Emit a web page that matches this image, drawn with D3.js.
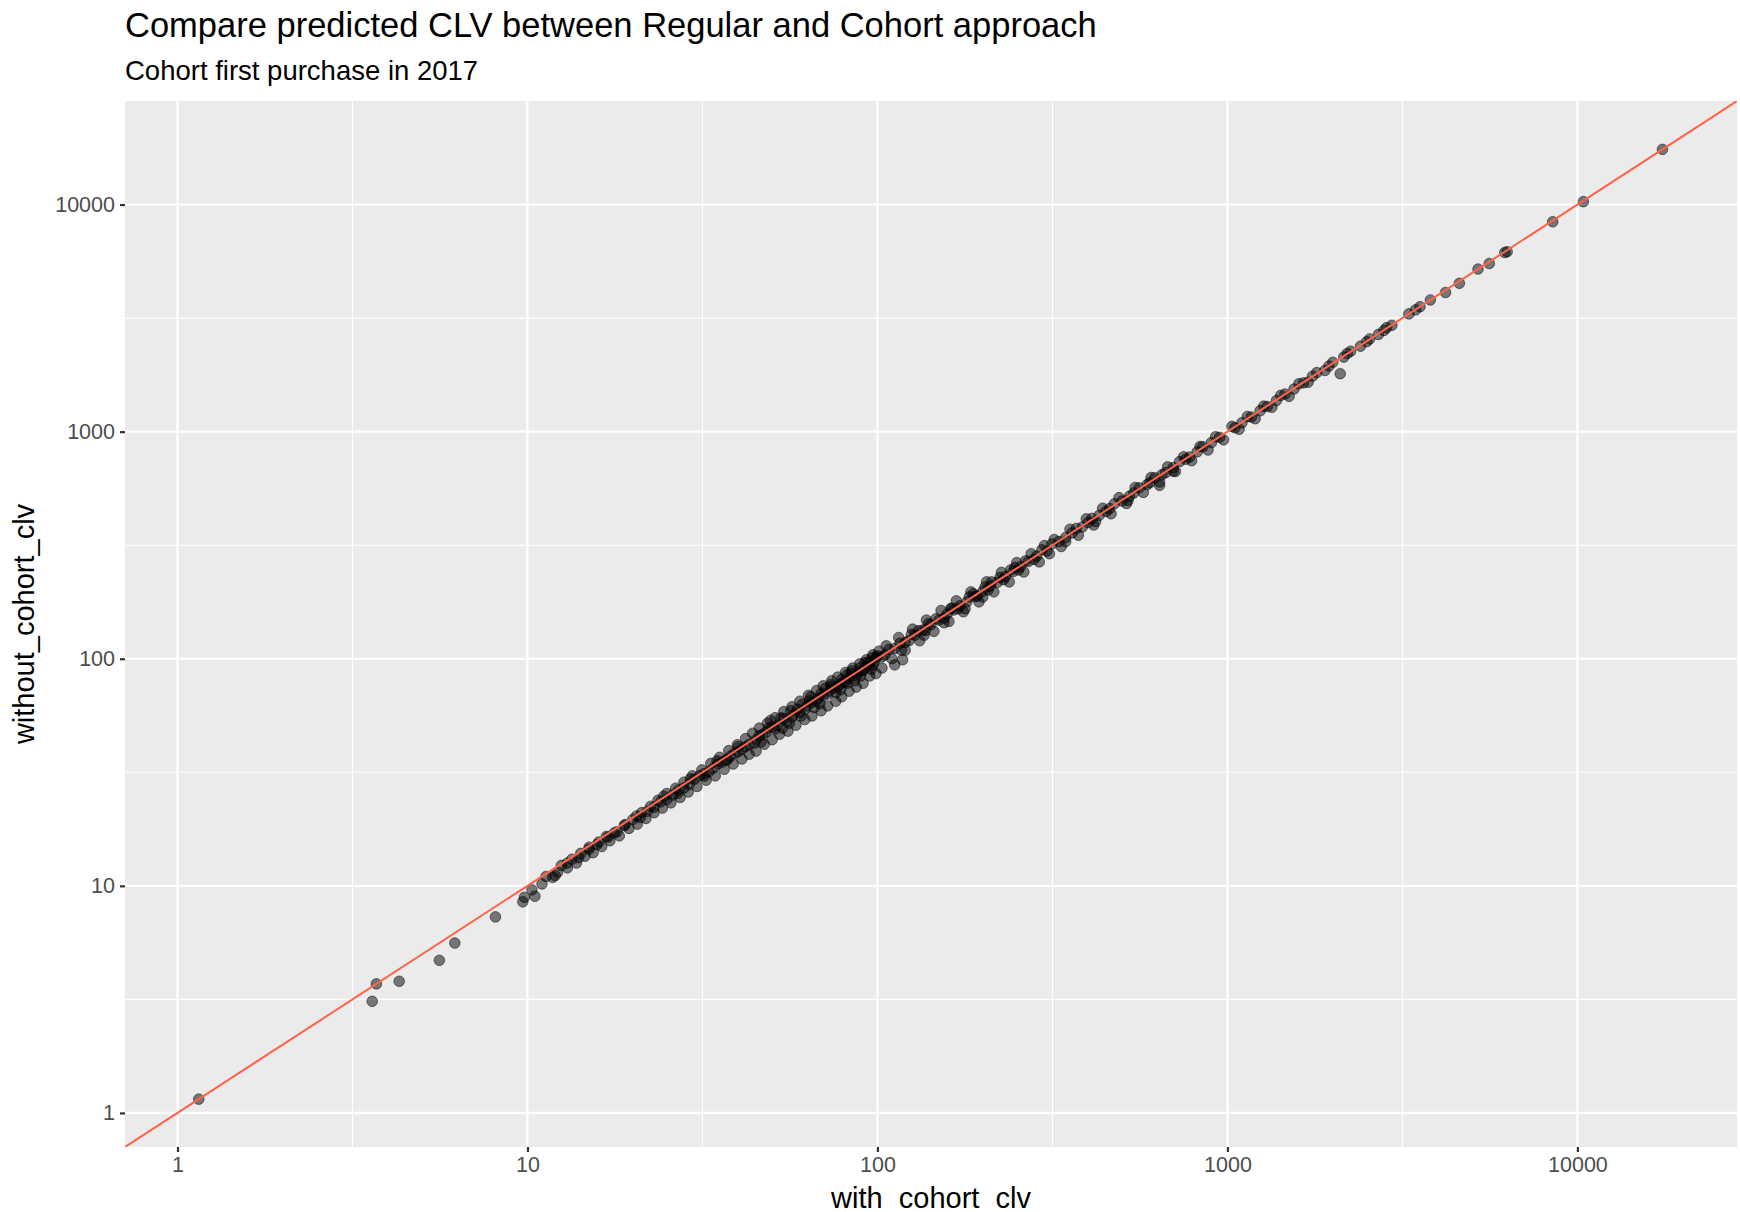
<!DOCTYPE html>
<html><head><meta charset="utf-8">
<script src="https://cdn.jsdelivr.net/npm/d3@7"></script>
<style>body{margin:0;background:#fff}text{font-family:"Liberation Sans",Arial,sans-serif}</style>
</head><body><svg id="c" width="1740" height="1212"></svg>
<script>
const title="Compare predicted CLV between Regular and Cohort approach";
const subtitle="Cohort first purchase in 2017";
const xLabel="with_cohort_clv", yLabel="without_cohort_clv";
const tickValues=[1,10,100,1000,10000];
const minorTicks=[3.1623,31.623,316.23,3162.3];
// [with_cohort_clv, without_cohort_clv]
const points=[
[1.15,1.15],[3.6,3.1],[3.7,3.7],[4.3,3.8],[5.6,4.7],[6.2,5.6],[8.1,7.3],[9.7,8.5],[9.8,8.9],[10.5,9.0],[10.3,9.6],
[11,10.2],[11.3,11.0],[11.8,10.9],[12.2,11.5],[12.5,12.3],[13,12.0],[13.4,13.1],[13.8,12.6],[14.2,13.9],[14.6,13.5],[15,14.8],[15.4,14.0],[15.8,15.2],[16.3,14.9],[16.8,16.5],[17.2,15.8],[17.7,17.1],[18.3,16.6],[18.9,18.4],[19.5,17.9],[20,19.6],[20.6,18.7],
[21.2,21.0],[21.8,19.8],[22.5,22.4],[23,21.0],[23.6,23.8],[24.3,22.0],[25,25.5],[25.7,23.2],[26.5,26.9],[27.3,24.5],[28,28.6],[28.8,25.9],[29.6,30.5],[30.5,27.4],[31.5,32.4],[32.4,29.2],[33.4,34.6],[34.4,30.5],[35.4,36.8],[36.5,32.6],[37.6,39.4],[38.7,34.4],[39.8,41.8],[41,36.2],[42,44.5],[43,38.0],
[22,21.3],[24,23.4],[26,25.1],[28,27.0],[30,29.5],[32,31.2],[34,33.0],[36,35.1],[38,37.2],[40,39],[42,41],[19,18.6],[17,16.4],[15,14.5],[13,12.6],
[23,22.2],[25,24],[27,26.4],[29,28],[31,30.5],[33,31.8],[35,34.4],[37,36],[39,38.3],[41,40],[20.5,20.3],[18,17.3],[16,15.6],[14,13.3],[12,11.1],
[21,20],[24.5,24.8],[26.8,25.5],[29.2,29.6],[32,30.4],[34.8,35.5],[37.2,35.8],[40,41],[43,42],[44.5,42.5],
[44,47],[45,39.2],[46,49.5],[47.5,42],[48.5,52],[50,44],[51,55],[52.5,46.5],[54,58.5],[55.5,48],[57,61.5],[58.5,51],[60,65],[62,54],[63.5,69],[65,56],[67,72.5],[69,59],[70,76],[72,62],[74,80],[76,65],[77,83],[79,68],[81,87],[83,72],[85,91],[87,75],[89,95],[91,78],[93,99],[95,84],[97,104],[99,86],[101,108],[103,91],
[45,44],[47,46.5],[50,50],[52,51],[55,53],[58,57],[60,58],[63,62],[65,64],[68,67],[70,69],[73,72],[75,74],[78,77],[80,79],[83,82],[85,84],[88,87],[90,88],[93,92],[95,94],[98,97],
[48,47.5],[53,55],[56,52],[61,63],[66,61],[71,74],[76,71],[82,85],[86,80],[92,96],[96,90],[100,103],[82,78],[112,94],[118,99],
[46,45.8],[49,49.5],[51,49],[54,54.5],[57,55.5],[59,60],[62,60],[64,65.5],[67,65],[69,70.5],[72,70],[74,75.5],[77,75],[79,81],[81,79],[84,86],[87,84],[89,91],[91,89],[94,96.5],[97,94],[99,101],
[46.5,43],[49.5,53.5],[53.5,49.5],[56.5,59],[60.5,56],[64.5,68],[68.5,63.5],[73.5,77],[78.5,73],[84.5,88.5],[89.5,84],[96.5,101],
[106,114],[110,100],[115,124],[120,109],[126,135],[132,120],[138,148],[145,132],[152,163],[160,146],[168,180],[176,161],[185,197],[195,178],[205,218],[215,197],[226,240],[238,218],[250,265],[262,241],[275,290],[290,267],[300,315],[310,290],
[105,104],[112,111],[120,118],[128,127],[135,134],[142,141],[150,148],[158,157],[165,164],[172,171],[180,178],[190,188],[200,198],[210,209],[220,217],[232,230],[244,242],[256,254],[270,268],[285,283],[108,110],[125,128],[140,143],[162,166],[188,193],[212,218],[240,246],
[103,102],[116,117],[123,120],[131,133],[137,133],[147,150],[155,151],[163,167],[170,166],[183,187],[193,189],[203,207],[207,201],[224,228],[229,223],[247,252],[253,246],[265,270],[280,274],[295,302],[305,298],[117,109],[136,127],[155,144],[178,166],[200,187],
[320,335],[335,312],[355,372],[375,350],[395,413],[415,388],[440,460],[465,435],[490,512],[515,483],[545,568],[575,540],[605,628],[640,600],[675,700],[710,668],[750,775],[790,745],[835,860],[880,830],[925,950],[975,920],
[330,328],[360,358],[400,398],[430,428],[460,458],[500,495],[540,537],[600,596],[650,646],[700,695],[760,756],[820,815],[900,895],[640,580],
[315,320],[345,342],[370,375],[385,380],[410,415],[450,445],[475,481],[525,520],[560,566],[590,585],[620,627],[665,660],[730,738],[780,773],[850,858],[950,944],[345,328],[420,402],[520,498],[700,670],
[1030,1055],[1080,1025],[1140,1165],[1200,1140],[1270,1295],[1340,1280],[1420,1445],[1500,1430],[1600,1625],[1700,1650],[1800,1820],[1900,1860],[2000,2020],[2150,2130],[2250,2260],[2400,2380],[2550,2560],[2700,2680],[2850,2870],[2950,2940],[1100,1095],[1300,1290],[1650,1640],[2100,1800],
[1050,1040],[1170,1160],[1240,1235],[1380,1370],[1460,1465],[1550,1540],[1750,1755],[1950,1945],[2200,2210],[2500,2490],[2800,2790],
[3300,3300],[3450,3440],[3550,3550],[3800,3800],[4200,4100],[4600,4500],[5200,5200],[5600,5500],[6300,6200],[6200,6150],[8500,8400],[10400,10300],[17500,17500]
];
const svg=d3.select("#c");
const L=125,R=1737,T=101,B=1147;
const dom=[Math.pow(10,-0.15),Math.pow(10,4.456)];
const x=d3.scaleLog().domain(dom).range([L,R]);
const y=d3.scaleLog().domain(dom).range([B,T]);
svg.append("rect").attr("x",L).attr("y",T).attr("width",R-L).attr("height",B-T).attr("fill","#EBEBEB");
const g=svg.append("g");
minorTicks.forEach(v=>{
 g.append("line").attr("x1",x(v)).attr("x2",x(v)).attr("y1",T).attr("y2",B).attr("stroke","#fff").attr("stroke-width",1.1);
 g.append("line").attr("y1",y(v)).attr("y2",y(v)).attr("x1",L).attr("x2",R).attr("stroke","#fff").attr("stroke-width",1.1);
});
tickValues.forEach(v=>{
 g.append("line").attr("x1",x(v)).attr("x2",x(v)).attr("y1",T).attr("y2",B).attr("stroke","#fff").attr("stroke-width",2.2);
 g.append("line").attr("y1",y(v)).attr("y2",y(v)).attr("x1",L).attr("x2",R).attr("stroke","#fff").attr("stroke-width",2.2);
});
const xa=svg.append("g").attr("transform",`translate(0,${B})`).call(d3.axisBottom(x).tickValues(tickValues).tickFormat(d3.format("d")).tickSize(5).tickPadding(5));
const ya=svg.append("g").attr("transform",`translate(${L},0)`).call(d3.axisLeft(y).tickValues(tickValues).tickFormat(d3.format("d")).tickSize(5).tickPadding(5));
[xa,ya].forEach(a=>{a.select(".domain").remove();a.selectAll("line").attr("stroke","#333").attr("stroke-width",2.2);a.selectAll("text").attr("fill","#4D4D4D").style("font-size","21.5px");});
const clip=svg.append("clipPath").attr("id","cp").append("rect").attr("x",L).attr("y",T).attr("width",R-L).attr("height",B-T);
const pg=svg.append("g").attr("clip-path","url(#cp)");
pg.selectAll("circle").data(points).join("circle").attr("cx",d=>x(d[0])).attr("cy",d=>y(d[1])).attr("r",5.3)
 .attr("fill","rgba(0,0,0,0.5)").attr("stroke","rgba(0,0,0,0.5)").attr("stroke-width",1);
pg.append("line").attr("x1",x(dom[0])).attr("y1",y(dom[0])).attr("x2",x(dom[1])).attr("y2",y(dom[1])).attr("stroke","#FF6347").attr("stroke-width",2);
svg.append("text").attr("x",L).attr("y",37).text(title).style("font-size","34.5px").attr("fill","#000");
svg.append("text").attr("x",L).attr("y",80).text(subtitle).style("font-size","27.5px").attr("fill","#000");
svg.append("text").attr("x",(L+R)/2).attr("y",1208).attr("text-anchor","middle").text(xLabel).style("font-size","29px");
svg.append("text").attr("transform",`translate(34,${(T+B)/2}) rotate(-90)`).attr("text-anchor","middle").text(yLabel).style("font-size","29px");
</script></body></html>
